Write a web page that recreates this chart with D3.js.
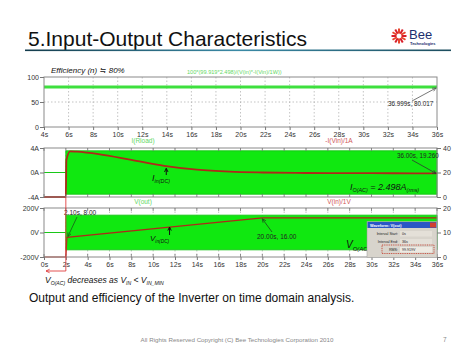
<!DOCTYPE html>
<html><head><meta charset="utf-8">
<script src="https://cdn.jsdelivr.net/npm/d3@7"></script>
<style>body{margin:0;background:#fff}svg{display:block;font-family:Arial,"Liberation Sans",sans-serif}</style>
</head><body><svg id="c" width="474" height="355"></svg>
<script>
// ---------- data ----------
const effTime = [4, 36];
const effValue = [80.0, 80.017];
const effTicks = [4,6,8,10,12,14,16,18,20,22,24,26,28,30,32,34,36];
const timeTicks = [0,2,4,6,8,10,12,14,16,18,20,22,24,26,28,30,32,34,36];
const ioutTime = [0, 2, 2, 36];
const ioutPeak = [0, 0, 3.533, 3.533];   // 2.498 A rms
const iinTime = [0, 2, 2.05, 2.4, 3, 5, 8, 11, 14, 17, 20, 24, 28, 32, 36];
const iinValue = [0, 0, 30, 37.3, 37.0, 35.0, 30.3, 25.4, 22.3, 20.7, 20.0, 19.6, 19.5, 19.4, 19.26];
const voutTime = [0, 2, 2, 36];
const voutPeak = [0, 0, 141.3, 141.3];  // 99.919 V rms
const vinTime = [0, 2, 2.1, 20, 36];
const vinValue = [0, 0, 8, 16, 16];
const effYTicks = [0, 50, 100];
const iLTicks = [-4, 0, 4], iRTicks = [0, 20, 40];
const vLTicks = [-200, 0, 200], vRTicks = [0, 10, 20];

const svg = d3.select("#c");
const GREEN = "#10e810", RED = "#b0281a", LBLG = "#66d866", LBLR = "#d05858", FR = "#8a8a8a";

// ---------- slide header ----------
svg.append("text").attr("x", 28).attr("y", 46).attr("font-size", 21).attr("fill", "#111")
  .text("5.Input-Output Characteristics");
const gl = svg.append("defs").append("linearGradient").attr("id", "ul");
gl.append("stop").attr("offset", "0").attr("stop-color", "#143c4c");
gl.append("stop").attr("offset", "0.5").attr("stop-color", "#3a8aa6");
gl.append("stop").attr("offset", "1").attr("stop-color", "#1d4d5e");
svg.append("rect").attr("x", 25).attr("y", 49.5).attr("width", 426).attr("height", 1.6).attr("fill", "url(#ul)");
// logo
const logo = svg.append("g").attr("transform", "translate(399,36)");
d3.range(12).forEach(i => {
  const a = i * Math.PI / 6;
  logo.append("line").attr("x1", Math.cos(a) * 2.5).attr("y1", Math.sin(a) * 2.5)
    .attr("x2", Math.cos(a) * 7.5).attr("y2", Math.sin(a) * 7.5)
    .attr("stroke", i % 2 ? "#e8452a" : "#d81e2a").attr("stroke-width", 2);
});
svg.append("text").attr("x", 409).attr("y", 39).attr("font-size", 13).attr("fill", "#1c2f6e").text("Bee");
svg.append("text").attr("x", 410).attr("y", 44.5).attr("font-size", 4).attr("fill", "#1c2f6e").attr("font-weight", "bold").text("Technologies");

// ---------- helpers ----------
const X0 = 44, X1 = 437;
function frame(top, bot) {
  svg.append("rect").attr("x", X0).attr("y", top).attr("width", X1 - X0).attr("height", bot - top)
    .attr("fill", "none").attr("stroke", FR).attr("stroke-width", 1);
}
function grid(xs, ticks, top, bot, ymid) {
  const g = svg.append("g").attr("stroke", "#aaa").attr("stroke-dasharray", "1.5,2").attr("stroke-width", 0.7);
  ticks.slice(1, -1).forEach(t => g.append("line").attr("x1", xs(t)).attr("x2", xs(t)).attr("y1", top).attr("y2", bot));
  g.append("line").attr("x1", X0).attr("x2", X1).attr("y1", ymid).attr("y2", ymid);
}
function innerTicks(xs, ticks, top, bot) {
  const g = svg.append("g").attr("stroke", "#777").attr("stroke-width", 0.8);
  ticks.forEach(t => {
    g.append("line").attr("x1", xs(t)).attr("x2", xs(t)).attr("y1", top).attr("y2", top + 3);
    g.append("line").attr("x1", xs(t)).attr("x2", xs(t)).attr("y1", bot).attr("y2", bot - 3);
  });
}
function styleAxis(g) {
  g.select(".domain").remove();
  g.selectAll("line").attr("stroke", "#777");
  g.selectAll("text").attr("font-size", 7).attr("fill", "#333").attr("font-family", "Arial,'Liberation Sans',sans-serif");
}
function arrowLine(x1, y1, x2, y2, color, w) {
  svg.append("line").attr("x1", x1).attr("y1", y1).attr("x2", x2).attr("y2", y2)
    .attr("stroke", color).attr("stroke-width", w || 0.8);
  const a = Math.atan2(y2 - y1, x2 - x1), L = 4, s = 0.45;
  svg.append("path").attr("d", `M${x2},${y2}L${x2 - L * Math.cos(a - s)},${y2 - L * Math.sin(a - s)}M${x2},${y2}L${x2 - L * Math.cos(a + s)},${y2 - L * Math.sin(a + s)}`)
    .attr("stroke", color).attr("stroke-width", w || 0.8).attr("fill", "none");
}
// parts: [text, isSub]
function richLabel(x, y, size, parts) {
  const t = svg.append("text").attr("x", x).attr("y", y).attr("font-size", size).attr("fill", "#111").attr("font-style", "italic");
  let sub = false;
  parts.forEach(p => {
    const ts = t.append("tspan").text(p[0]);
    if (p[1] && !sub) { ts.attr("font-size", size * 0.6).attr("dy", size * 0.25); sub = true; }
    else if (!p[1] && sub) { ts.attr("font-size", size).attr("dy", -size * 0.25); sub = false; }
    else if (p[1]) ts.attr("font-size", size * 0.6);
  });
  return t;
}

// ---------- panel 1: efficiency ----------
const x1s = d3.scaleLinear().domain([4, 36]).range([X0, X1]);
const y1s = d3.scaleLinear().domain([0, 100]).range([127, 77]);
grid(x1s, effTicks, 77, 127, y1s(50));
svg.append("path").datum(effTime.map((t, i) => [t, effValue[i]]))
  .attr("d", d3.line().x(d => x1s(d[0])).y(d => y1s(d[1])))
  .attr("stroke", "#3ee03e").attr("stroke-width", 3).attr("fill", "none");
frame(77, 127);
svg.append("g").attr("transform", `translate(${X0},0)`).call(d3.axisLeft(y1s).tickValues(effYTicks).tickSize(4).tickPadding(1)).call(styleAxis);
svg.append("g").attr("transform", "translate(0,127)").call(d3.axisBottom(x1s).tickValues(effTicks).tickFormat(d => d + "s").tickSize(3).tickPadding(2)).call(styleAxis);
svg.append("text").attr("x", 51).attr("y", 73).attr("font-size", 8).attr("font-style", "italic").attr("fill", "#111").text("Efficiency (n) ≒ 80%");
svg.append("text").attr("x", 187).attr("y", 74).attr("font-size", 5.6).attr("fill", LBLG).text("100*(99.919*2.498)/(V(in)*-I(Vin)/1W))");
svg.append("text").attr("x", 388).attr("y", 106).attr("font-size", 6.3).attr("fill", "#222").text("36.999s, 80.017");
arrowLine(412, 101, x1s(36) - 1, y1s(80) + 1, "#555", 0.8);

// ---------- panel 2: current ----------
const xs = d3.scaleLinear().domain([0, 36]).range([X0, X1]);
const y2L = d3.scaleLinear().domain([-4, 4]).range([197, 148]);
const y2R = d3.scaleLinear().domain([0, 40]).range([197, 148]);
grid(xs, timeTicks, 148, 197, y2L(0));
svg.append("path").datum(ioutTime.map((t, i) => [t, ioutPeak[i]]))
  .attr("d", d3.area().x(d => xs(d[0])).y0(d => y2L(-d[1])).y1(d => y2L(d[1])))
  .attr("fill", GREEN).attr("stroke", "#18c818").attr("stroke-width", 1);
svg.append("path").datum(iinTime.map((t, i) => [t, iinValue[i]]))
  .attr("d", d3.line().curve(d3.curveMonotoneX).x(d => xs(d[0])).y(d => y2R(d[1])))
  .attr("stroke", RED).attr("stroke-width", 1.8).attr("fill", "none");
frame(148, 197);
innerTicks(xs, timeTicks, 148, 197);
svg.append("g").attr("transform", `translate(${X0},0)`).call(d3.axisLeft(y2L).tickValues(iLTicks).tickFormat(d => d + "A").tickSize(4).tickPadding(1)).call(styleAxis);
svg.append("g").attr("transform", `translate(${X1},0)`).call(d3.axisRight(y2R).tickValues(iRTicks).tickSize(4).tickPadding(2)).call(styleAxis);
svg.append("text").attr("x", 143).attr("y", 143).attr("text-anchor", "middle").attr("font-size", 6.5).attr("fill", LBLG).text("I(Rload)");
svg.append("text").attr("x", 339).attr("y", 143).attr("text-anchor", "middle").attr("font-size", 6.5).attr("fill", LBLR).text("-I(Vin)/1A");
richLabel(152, 181, 9, [["I", 0], ["in(DC)", 1]]);
arrowLine(xs(11.2), 175, xs(11.2), y2R(24.2) + 1, "#111", 1);
svg.append("text").attr("x", 397).attr("y", 158).attr("font-size", 6.3).attr("fill", "#222").text("36.00s, 19.260");
arrowLine(412, 160, xs(36) - 1, y2R(19.26), "#333", 0.8);
richLabel(350, 190, 9, [["I", 0], ["O(AC)", 1], [" = 2.498A", 0], ["(rms)", 1]]);

// ---------- panel 3: voltage ----------
const y3L = d3.scaleLinear().domain([-200, 200]).range([257, 208]);
const y3R = d3.scaleLinear().domain([0, 20]).range([257, 208]);
grid(xs, timeTicks, 208, 257, y3L(0));
svg.append("path").datum(voutTime.map((t, i) => [t, voutPeak[i]]))
  .attr("d", d3.area().x(d => xs(d[0])).y0(d => y3L(-d[1])).y1(d => y3L(d[1])))
  .attr("fill", GREEN).attr("stroke", "#18c818").attr("stroke-width", 1);
svg.append("path").datum(vinTime.map((t, i) => [t, vinValue[i]]))
  .attr("d", d3.line().x(d => xs(d[0])).y(d => y3R(d[1])))
  .attr("stroke", RED).attr("stroke-width", 1.2).attr("fill", "none");
frame(208, 257);
innerTicks(xs, timeTicks, 208, 257);
svg.append("g").attr("transform", `translate(${X0},0)`).call(d3.axisLeft(y3L).tickValues(vLTicks).tickFormat(d => d + "V").tickSize(4).tickPadding(1)).call(styleAxis);
svg.append("g").attr("transform", `translate(${X1},0)`).call(d3.axisRight(y3R).tickValues(vRTicks).tickSize(4).tickPadding(2)).call(styleAxis);
svg.append("g").attr("transform", "translate(0,257)").call(d3.axisBottom(xs).tickValues(timeTicks).tickFormat(d => d + "s").tickSize(3).tickPadding(2)).call(styleAxis);
svg.append("text").attr("x", 143).attr("y", 204).attr("text-anchor", "middle").attr("font-size", 6.5).attr("fill", LBLG).text("V(out)");
svg.append("text").attr("x", 339).attr("y", 204).attr("text-anchor", "middle").attr("font-size", 6.5).attr("fill", LBLR).text("V(in)/1V");
svg.append("text").attr("x", 64).attr("y", 214.5).attr("font-size", 6.5).attr("fill", "#222").text("2.10s, 8.00");
arrowLine(77, 217, xs(2.1) + 1, y3R(8) - 1, "#1a6a1a", 0.9);
svg.append("text").attr("x", 257).attr("y", 239).attr("font-size", 6.5).attr("fill", "#222").text("20.00s, 16.00");
arrowLine(272, 232, xs(20), y3R(16) + 1, "#1a5a1a", 0.9);
richLabel(150, 241, 8, [["V", 0], ["in(DC)", 1]]);
arrowLine(xs(11.5), 235, xs(11.5), 227, "#111", 1);
richLabel(346, 248, 10, [["V", 0], ["O(AC)", 1]]);

// waveform dialog
const dg = svg.append("g");
dg.append("rect").attr("x", 367).attr("y", 221.5).attr("width", 70).attr("height", 36).attr("fill", "#d8d4cc").attr("stroke", "#999").attr("stroke-width", 0.5);
dg.append("rect").attr("x", 367.5).attr("y", 222).attr("width", 69).attr("height", 6).attr("fill", "#2a56c6");
dg.append("rect").attr("x", 430).attr("y", 222.5).attr("width", 6).attr("height", 5).attr("fill", "#d04030");
dg.append("text").attr("x", 370).attr("y", 226.8).attr("font-size", 3.8).attr("fill", "#fff").attr("font-weight", "bold").text("Waveform: V(out)");
[["Interval Start:", "0s", 235], ["Interval End:", "36s", 243], ["RMS:", "99.919V", 251]].forEach((r, i) => {
  dg.append("text").attr("x", 398).attr("y", r[2]).attr("text-anchor", "end").attr("font-size", 3.6).attr("fill", "#222").text(r[0]);
  dg.append("rect").attr("x", 400).attr("y", r[2] - 4).attr("width", 32).attr("height", 5.5).attr("fill", i < 2 ? "#e4e0d8" : "#eeeae2");
  dg.append("text").attr("x", 402).attr("y", r[2]).attr("font-size", 3.6).attr("fill", "#222").text(r[1]);
});
dg.append("rect").attr("x", 382).attr("y", 245).attr("width", 52).attr("height", 8.5).attr("fill", "none").attr("stroke", "#c03020").attr("stroke-dasharray", "1,0.8").attr("stroke-width", 0.8);

// red marker + arrow + caption
svg.append("line").attr("x1", xs(2)).attr("x2", xs(2)).attr("y1", y2R(0)).attr("y2", 271).attr("stroke", "#e04040").attr("stroke-width", 0.9);
arrowLine(xs(2), 271, X0 + 2, 271, "#e04040", 0.9);
richLabel(45, 283, 8.5, [["V", 0], ["O(AC)", 1], [" decreases as V", 0], ["IN", 1], [" < V", 0], ["IN_MIN", 1]]);

// ---------- footer ----------
svg.append("text").attr("x", 29).attr("y", 302).attr("font-size", 12).attr("fill", "#111").text("Output and efficiency of the Inverter on time domain analysis.");
svg.append("text").attr("x", 237).attr("y", 342).attr("text-anchor", "middle").attr("font-size", 6.2).attr("fill", "#888").text("All Rights Reserved Copyright (C) Bee Technologies Corporation 2010");
svg.append("text").attr("x", 443).attr("y", 342).attr("font-size", 6.5).attr("fill", "#888").text("7");
</script></body></html>
